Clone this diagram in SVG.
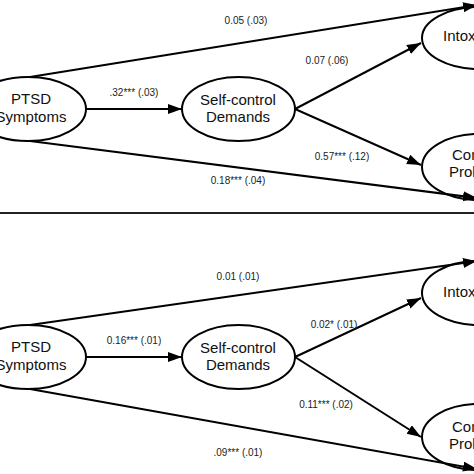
<svg xmlns="http://www.w3.org/2000/svg" width="474" height="474" viewBox="0 0 474 474">
<style>
.node{fill:#fff;stroke:#000;stroke-width:2}
.nt{font-family:"Liberation Sans",Arial,sans-serif;font-size:15px;fill:#111;text-anchor:middle}
.ns{font-family:"Liberation Sans",Arial,sans-serif;font-size:15px;fill:#111;text-anchor:start}
.lb{font-family:"Liberation Sans",Arial,sans-serif;font-size:10px;fill:#222;text-anchor:middle}
.edge{stroke:#000;stroke-width:2;fill:none;marker-end:url(#ah)}
</style>
<defs>
<marker id="ah" markerUnits="userSpaceOnUse" markerWidth="15" markerHeight="11" refX="14" refY="5" orient="auto" viewBox="0 0 15 11">
<path d="M0,0 L14,5 L0,10 z" fill="#000"/>
</marker>
</defs>
<rect width="474" height="474" fill="#fff"/>
<line id="divider" x1="0" y1="213" x2="474" y2="213" stroke="#222" stroke-width="2"/>
<g id="ptsd1">
<ellipse class="node" cx="28" cy="109" rx="58" ry="32"/>
<text class="nt" x="31" y="104">PTSD</text>
<text class="nt" x="31" y="122">Symptoms</text>
</g>
<g id="scd1">
<ellipse class="node" cx="238.5" cy="109" rx="56.5" ry="32"/>
<text class="nt" x="238" y="104.5">Self-control</text>
<text class="nt" x="238" y="121.5">Demands</text>
</g>
<g id="intox1">
<ellipse class="node" cx="479" cy="38" rx="57" ry="31"/>
<text class="ns" x="443" y="41">Intox</text>
</g>
<g id="conf1">
<ellipse class="node" cx="479" cy="167" rx="57" ry="33"/>
<text class="ns" x="452" y="160">Con</text>
<text class="ns" x="449" y="177">Prob</text>
</g>
<g id="ptsd2">
<ellipse class="node" cx="28" cy="357" rx="58" ry="32"/>
<text class="nt" x="31" y="352">PTSD</text>
<text class="nt" x="31" y="370">Symptoms</text>
</g>
<g id="scd2">
<ellipse class="node" cx="238.5" cy="357" rx="56.5" ry="32"/>
<text class="nt" x="238" y="352.5">Self-control</text>
<text class="nt" x="238" y="369.5">Demands</text>
</g>
<g id="intox2">
<ellipse class="node" cx="479" cy="293" rx="57" ry="32"/>
<text class="ns" x="443" y="297">Intox</text>
</g>
<g id="conf2">
<ellipse class="node" cx="479" cy="437" rx="57" ry="33"/>
<text class="ns" x="452" y="432">Con</text>
<text class="ns" x="449" y="449">Prob</text>
</g>
<g id="connectors">
<line class="edge" x1="86" y1="109" x2="182" y2="109"/>
<line class="edge" x1="30" y1="77" x2="477" y2="5"/>
<line class="edge" x1="30" y1="141" x2="477" y2="198"/>
<line class="edge" x1="295" y1="109" x2="421" y2="43"/>
<line class="edge" x1="295" y1="109" x2="421" y2="165"/>
<line class="edge" x1="86" y1="357" x2="182" y2="357"/>
<line class="edge" x1="30" y1="325" x2="477" y2="261"/>
<line class="edge" x1="30" y1="389" x2="477" y2="469"/>
<line class="edge" x1="295" y1="357" x2="421" y2="298"/>
<line class="edge" x1="295" y1="357" x2="421" y2="437"/>
</g>
<g id="labels">
<text class="lb" x="246" y="24">0.05 (.03)</text>
<text class="lb" x="327" y="64">0.07 (.06)</text>
<text class="lb" x="134" y="96">.32*** (.03)</text>
<text class="lb" x="342" y="160">0.57*** (.12)</text>
<text class="lb" x="238" y="184">0.18*** (.04)</text>
<text class="lb" x="238" y="280">0.01 (.01)</text>
<text class="lb" x="334" y="328">0.02* (.01)</text>
<text class="lb" x="134" y="344">0.16*** (.01)</text>
<text class="lb" x="326" y="408">0.11*** (.02)</text>
<text class="lb" x="238" y="456">.09*** (.01)</text>
</g>
</svg>
